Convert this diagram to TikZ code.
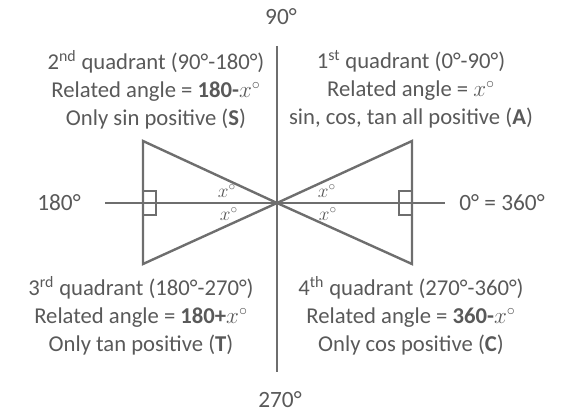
\documentclass[tikz,border=0pt]{standalone}
\usepackage{fontspec}
\setmainfont{Carlito}
\usepackage{xcolor}
\usetikzlibrary{positioning, calc}
\definecolor{inkgray}{HTML}{595959}
\definecolor{linegray}{HTML}{6E6E6E}
\tikzset{
    % Axis and triangle lines
    axis line/.style={
        draw=linegray,
        line width=1.8pt
    },
    % Right angle marker
    right mark/.style={
        draw=linegray,
        line width=0.9pt
    },
    % Quadrant text block
    quad text/.style={
        align=center,
        text=inkgray,
        font=\fontsize{17}{21}\selectfont,
        inner sep=0pt
    },
    % Axis degree label
    axis label/.style={
        text=inkgray,
        font=\fontsize{17.5}{20}\selectfont,
        inner sep=0pt
    },
    % Angle label
    angle label/.style={
        text=inkgray,
        font=\fontsize{14}{16}\selectfont,
        inner sep=0pt
    }
}
\begin{document}
\begin{tikzpicture}[x=0.75pt, y=-0.75pt]
        \useasboundingbox (0,0) rectangle (573,417);

        % Axes
        \coordinate (origin) at (277, 203);
        \coordinate (ytop) at (277, 46);
        \coordinate (ybottom) at (277, 372);
        \coordinate (xleft) at (105, 203);
        \coordinate (xright) at (445, 203);
        \draw[axis line] (ytop) -- (ybottom);
        \draw[axis line] (xleft) -- (xright);

        % Triangles
        \coordinate (ltop) at (143, 141);
        \coordinate (lbottom) at (143, 264);
        \coordinate (rtop) at (412, 141);
        \coordinate (rbottom) at (412, 264);
        \draw[axis line, line join=miter] (origin) -- (ltop) -- (lbottom) -- cycle;
        \draw[axis line, line join=miter] (origin) -- (rtop) -- (rbottom) -- cycle;

        % Right angle markers
        \draw[right mark] (143, 191) rectangle (156, 215);
        \draw[right mark] (399, 191) rectangle (412, 215);

        % Angle labels
        \node[angle label] (lupper) at (227, 191) {$x^{\circ}$};
        \node[angle label] (llower) at (229, 214) {$x^{\circ}$};
        \node[angle label] (rupper) at (327, 191) {$x^{\circ}$};
        \node[angle label] (rlower) at (328, 214) {$x^{\circ}$};

        % Axis labels
        \node[axis label] (deg90) at (281, 17) {90°};
        \node[axis label] (deg270) at (280, 400) {270°};
        \node[axis label] (deg180) at (59, 203) {180°};
        \node[axis label] (deg0) at (502, 203) {0° = 360°};

        % Quadrant texts
        \node[quad text] (second) at (156, 90) {2\textsuperscript{nd} quadrant (90°-180°)\\Related angle = \textbf{180-}$x^{\circ}$\\Only sin positive (\textbf{S})};
        \node[quad text] (first) at (411, 89) {1\textsuperscript{st} quadrant (0°-90°)\\Related angle = $x^{\circ}$\\sin, cos, tan all positive (\textbf{A})};
        \node[quad text] (third) at (141, 316) {3\textsuperscript{rd} quadrant (180°-270°)\\Related angle = \textbf{180+}$x^{\circ}$\\Only tan positive (\textbf{T})};
        \node[quad text] (fourth) at (411, 316) {4\textsuperscript{th} quadrant (270°-360°)\\Related angle = \textbf{360-}$x^{\circ}$\\Only cos positive (\textbf{C})};

    \end{tikzpicture}
\end{document}
